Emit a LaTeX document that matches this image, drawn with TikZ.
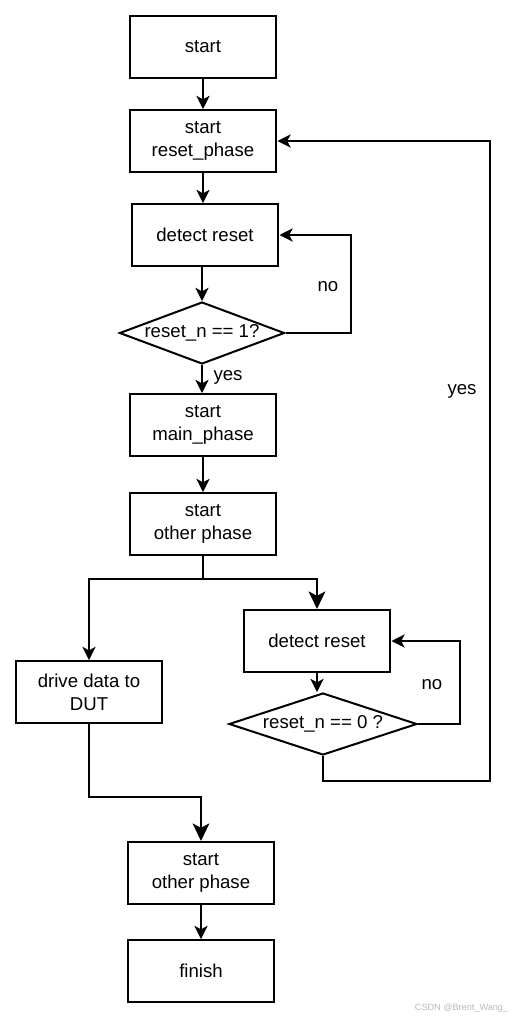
\documentclass[tikz,border=0pt]{standalone}
\usepackage{fontspec}
\setmainfont{Liberation Sans}
\usepackage{tikz}
\usetikzlibrary{arrows.meta,shapes.geometric,positioning}
\colorlet{wmark}{gray!55}

\begin{document}
\begin{tikzpicture}[x=0.02cm,y=-0.02cm,line width=0.04cm,
  box/.style={draw,rectangle,minimum width=2.94cm,minimum height=1.24cm,align=center,
    font=\fontsize{10.6}{13}\selectfont},
  test/.style={draw,diamond,aspect=3,inner sep=0pt,minimum height=1.24cm,
    font=\fontsize{10.6}{13}\selectfont},
  arr/.style={-{Stealth[length=7.5pt,width=7.5pt,inset=2pt]}},
  bigarr/.style={-{Stealth[length=10pt,width=9.5pt,inset=2.5pt]}},
  lbl/.style={font=\fontsize{10.6}{13}\selectfont}]
\useasboundingbox (0,0) rectangle (519,1019);
\node[box] (start) at (203,47) {start};
\node[box] (reset) at (203,141) {start\\reset\_phase};
\node[box] (det1) at (205,235) {detect reset};
\node[test,minimum width=3.3cm] (dia1) at (202,333) {reset\_n == 1?};
\node[box] (main) at (203,425) {start\\main\_phase};
\node[box] (other1) at (203,524) {start\\other phase};
\coordinate (split) at (203,579);
\node[box] (drive) at (89,692) {drive data to\\DUT};
\node[box] (det2) at (317,641) {detect reset};
\node[test,minimum width=3.76cm] (dia2) at (323,724) {reset\_n == 0 ?};
\node[box] (other2) at (201,873) {start\\other phase};
\node[box] (finish) at (201,971) {finish};
\node[lbl] (no1) at (328,287) {no};
\node[lbl] (yes1) at (228,377) {yes};
\node[lbl] (no2) at (432,685) {no};
\node[lbl] (yes2) at (462,391) {yes};
\node[wmark,anchor=east,font=\fontsize{5.2}{6}\selectfont] (mark) at (515,1008) {CSDN @Brent\_Wang\_};
\draw[arr] (start.south) -- (start.south |- reset.north);
\draw[arr] (reset.south) -- (reset.south |- det1.north);
\draw[arr] (dia1.north |- det1.south) -- (dia1.north);
\draw[arr] (dia1.east) -- ++(65,0) |- (det1.east);
\draw[arr] (dia1.south) -- (dia1.south |- main.north);
\draw[arr] (main) -- (other1);
\draw (other1.south) -- (split);
\draw[arr] (split) -| (drive.north);
\draw[bigarr] (split) -| (det2.north);
\draw[arr] (det2.south) -- (det2.south |- dia2.north);
\draw[arr] (dia2.east) -- ++(42,0) |- (det2.east);
\draw[arr] (dia2.south) |- (490,781) |- (reset.east);
\draw[bigarr] (drive.south) -- ++(0,73) -| (other2.north);
\draw[arr] (other2) -- (finish);
\end{tikzpicture}
\end{document}
